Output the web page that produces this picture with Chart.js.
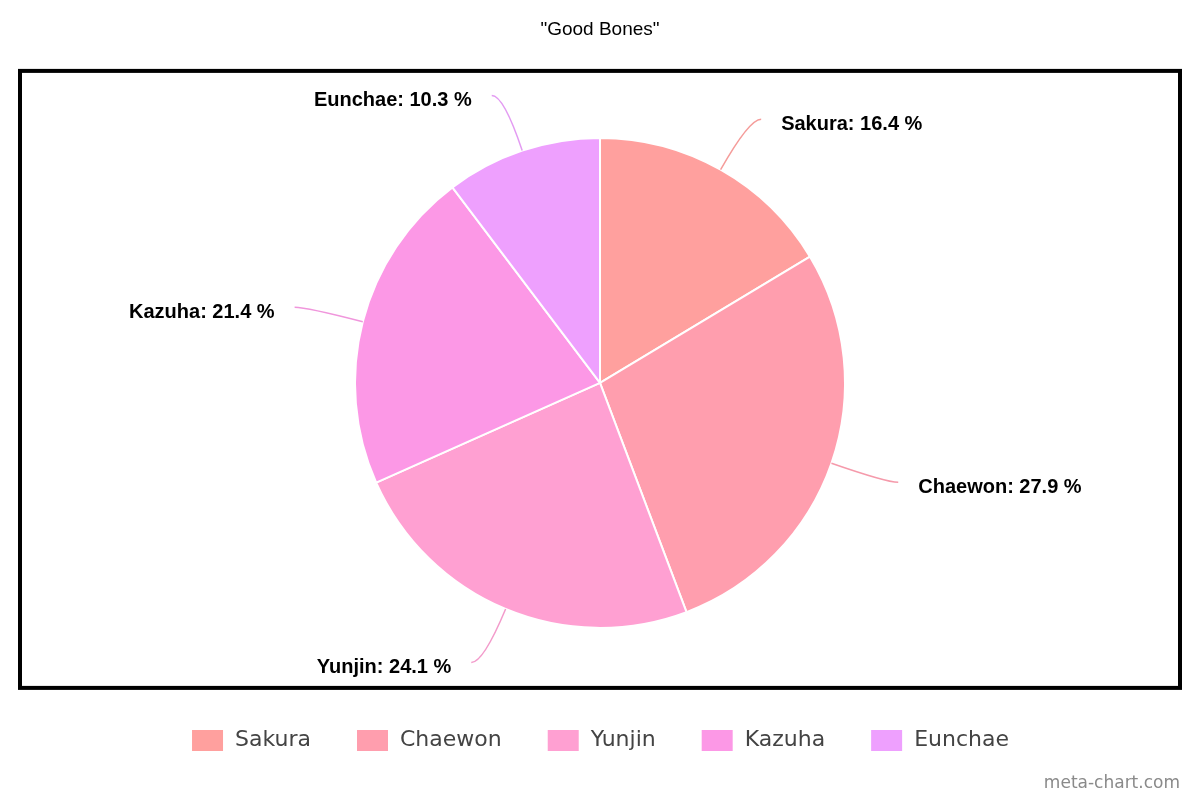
<!DOCTYPE html>
<html>
<head>
<meta charset="utf-8">
<script src="https://cdn.jsdelivr.net/npm/chart.js@4/dist/chart.umd.min.js"></script>
<style>
  html, body { margin: 0; padding: 0; background: #fff; }
  #wrap { width: 1200px; height: 800px; position: relative; }
  #pie { display: block; }
</style>
</head>
<body>
<div id="wrap"><canvas id="pie" width="1200" height="800"></canvas></div>
<script>
const chartTitle = '"Good Bones"'
const members = ['Sakura', 'Chaewon', 'Yunjin', 'Kazuha', 'Eunchae']
const shares = [16.4, 27.9, 24.1, 21.4, 10.3]
const sliceColors = ['#ffa09e', '#ff9eae', '#ffa0d2', '#fc98e6', '#eea0fe']
const lineColors = ['#f59c9a', '#f59aab', '#f39bcb', '#f096dc', '#e39bf2']

// black frame round the pie, plus the watermark
const framePlugin = {
  id: 'frame',
  beforeDraw(chart) {
    const ctx = chart.ctx
    const arc = chart.getDatasetMeta(0).data[0]
    if (!arc) return
    const cy = arc.y
    ctx.save()
    ctx.fillStyle = '#fff'
    ctx.fillRect(0, 0, chart.width, chart.height)
    ctx.strokeStyle = '#000'
    ctx.lineWidth = 4
    ctx.strokeRect(20, cy - 312, 1160, 617)
    ctx.restore()
  },
  afterDraw(chart) {
    const ctx = chart.ctx
    ctx.save()
    ctx.fillStyle = '#8a8a8a'
    ctx.font = '17px "DejaVu Sans"'
    ctx.textAlign = 'right'
    ctx.textBaseline = 'middle'
    ctx.fillText('meta-chart.com', 1180, 784)
    ctx.restore()
  }
}

// outside labels with curved leader lines
const leaderPlugin = {
  id: 'leaders',
  afterDatasetsDraw(chart) {
    const ctx = chart.ctx
    const meta = chart.getDatasetMeta(0)
    meta.data.forEach((arc, i) => {
      const p = arc.getProps(['x', 'y', 'startAngle', 'endAngle', 'outerRadius'], true)
      const mid = (p.startAngle + p.endAngle) / 2
      const cos = Math.cos(mid), sin = Math.sin(mid)
      const right = cos >= 0
      const sx = p.x + cos * p.outerRadius
      const sy = p.y + sin * p.outerRadius
      const cx = p.x + cos * (p.outerRadius + 58)
      const cyy = p.y + sin * (p.outerRadius + 58)
      const ex = cx + (right ? 12 : -12)
      ctx.save()
      ctx.strokeStyle = lineColors[i]
      ctx.lineWidth = 1.5
      ctx.beginPath()
      ctx.moveTo(sx, sy)
      ctx.quadraticCurveTo(cx, cyy, ex, cyy)
      ctx.stroke()
      ctx.fillStyle = '#000'
      ctx.font = 'bold 20px "Liberation Sans", Arial, sans-serif'
      ctx.textBaseline = 'middle'
      ctx.textAlign = right ? 'left' : 'right'
      ctx.fillText(members[i] + ': ' + shares[i] + ' %', ex + (right ? 20 : -20), cyy + 5)
      ctx.restore()
    })
  }
}

const ctx = document.getElementById('pie').getContext('2d')

const pieChart = new Chart(ctx, {
  type: 'pie',
  data: {
    labels: members,
    datasets: [{
      data: shares,
      backgroundColor: sliceColors,
      borderColor: '#fff',
      borderWidth: 2,
      radius: 245
    }]
  },
  options: {
    responsive: false,
    animation: false,
    devicePixelRatio: 1,
    layout: { padding: { top: 0, bottom: 38, left: 0, right: 0 } },
    plugins: {
      title: {
        display: true,
        text: chartTitle,
        color: '#000',
        font: { family: '"Liberation Sans", Arial, sans-serif', size: 19, weight: 'normal' },
        padding: { top: 18, bottom: 41 }
      },
      legend: {
        position: 'bottom',
        labels: {
          boxWidth: 33,
          boxHeight: 23,
          padding: 45,
          color: '#444',
          font: { family: '"DejaVu Sans"', size: 22 }
        }
      },
      tooltip: { enabled: false }
    }
  },
  plugins: [framePlugin, leaderPlugin]
})
</script>
</body>
</html>
